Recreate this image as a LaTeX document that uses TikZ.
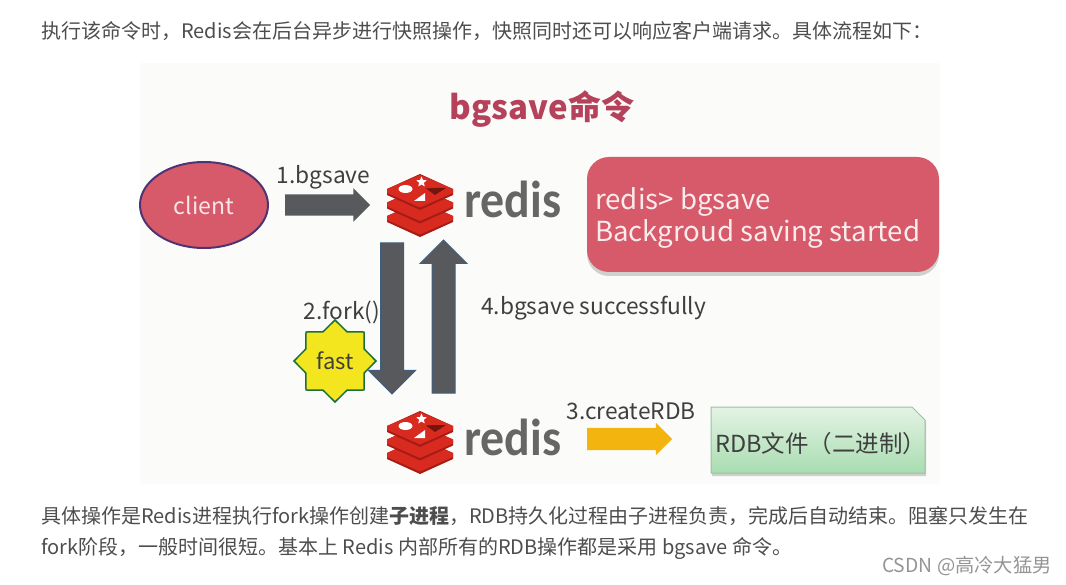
\documentclass[tikz,border=0pt]{standalone}
\usepackage{fontspec}
\setmainfont{Noto Sans CJK SC}
\newfontfamily\logofont[FakeStretch=0.92]{Carlito}
\usetikzlibrary{shapes.geometric, shapes.arrows, shadows}

\definecolor{pagetext}{HTML}{4D4D4D}
\definecolor{panelbg}{HTML}{FBFBF9}
\definecolor{rosered}{HTML}{D65A69}
\definecolor{titlered}{HTML}{B5415A}
\definecolor{labelgray}{HTML}{3F3F3F}
\definecolor{arrowgray}{HTML}{58595C}
\definecolor{arrowblue}{HTML}{3D6080}
\definecolor{logolight}{HTML}{D92A20}
\definecolor{logodark}{HTML}{A51C16}
\definecolor{amberfill}{HTML}{F4B40F}
\definecolor{starfill}{HTML}{F3E51E}
\definecolor{filetop}{HTML}{E4F4E4}
\definecolor{filebottom}{HTML}{A8DCB0}

\newcommand{\fsize}[1]{\fontsize{#1}{#1}\selectfont}

\tikzset{
    bodyline/.style={anchor=west, inner sep=0pt, text=pagetext, font=\fsize{20}},
    steplabel/.style={inner sep=0pt, text=labelgray, font=\fsize{22.7}},
    consoleline/.style={inner sep=0pt, anchor=west, text=white!88!rosered, font=\fsize{27.6}},
    redisword/.style={inner sep=0pt, text=black!60, font=\logofont\bfseries\fsize{52}},
    blockarrow/.style={single arrow, single arrow tip angle=90, single arrow head indent=0pt,
        inner xsep=0pt, outer sep=0pt, anchor=tail},
    grayarrow/.style={blockarrow, inner ysep=11pt, single arrow head extend=12pt,
        fill=arrowgray, draw=arrowblue, line width=1pt},
    pics/redislogo/.style={code={
        \foreach \dy in {27, 13.5, 0} {
            \fill[logodark] (-33, 15+\dy) -- (0, \dy) -- (33, 15+\dy) -- (33, 21+\dy) -- (0, 36+\dy) -- (-33, 21+\dy) -- cycle;
            \fill[logolight] (-33, 15+\dy) -- (0, 1+\dy) -- (33, 15+\dy) -- (33, 19+\dy) -- (0, 33.5+\dy) -- (-33, 19+\dy) -- cycle;
        }
        \fill[white] (-14.5, 15) ellipse (7 and 4);
        \node[star, star points=5, star point ratio=2.2, fill=white, inner sep=0pt, minimum size=11pt] at (1.5, 8) {};
        \fill[white] (-6, 27) -- (5, 19) -- (5, 27) -- cycle;
        \fill[logodark!70!black] (15, 14) -- (26, 14) -- (15, 21) -- (6, 14.5) -- cycle;
    }},
}

\begin{document}
\begin{tikzpicture}[x=1pt, y=-1pt]
    \useasboundingbox (0, 0) rectangle (1066, 585);

    \node[bodyline] (intro) at (41, 31) {执行该命令时，Redis会在后台异步进行快照操作，快照同时还可以响应客户端请求。具体流程如下：};
    \fill[panelbg] (140, 63) rectangle (940, 484);

    \node[text=titlered, font=\bfseries\fsize{33}, inner sep=0pt] (title) at (542, 109) {bgsave命令};

    % top row
    \node[ellipse, draw=arrowblue!60!violet!90!black, line width=2pt, fill=rosered, minimum width=128pt, minimum height=86pt,
        text=white!85!rosered, font=\fsize{23}] (client) at (204, 205) {client};
    \node[steplabel] (bgsavelabel) at (323.5, 177) {1.bgsave};
    \node[blockarrow, inner ysep=10.5pt, single arrow head extend=6pt, minimum height=85pt, fill=arrowgray] (bgsavearrow) at (285, 205) {};
    \pic at (420, 174) {redislogo};
    \node[redisword] (redistop) at (513, 199) {redis};
    \node[rounded corners=22pt, fill=rosered, drop shadow={shadow xshift=0pt, shadow yshift=-4pt, opacity=0.35},
        minimum width=352pt, minimum height=115pt] (console) at (763, 214.5) {};
    \node[consoleline] (consoleone) at (595, 202) {redis> bgsave};
    \node[consoleline] (consoletwo) at (595, 234) {Backgroud saving started};

    % middle
    \node[grayarrow, minimum height=151pt, rotate=-90] (forkarrow) at (392, 243) {};
    \node[grayarrow, minimum height=153pt, rotate=90] (donearrow) at (443.5, 393) {};
    \node[steplabel] (forklabel) at (342, 312) {2.fork()};
    \node[star, star points=8, star point ratio=1.3, fill=starfill, draw=arrowblue!60!green!70!black, line width=1.5pt,
        minimum size=82pt, inner sep=0pt, text=labelgray, font=\fsize{22}] (fast) at (335, 361) {fast};
    \node[steplabel] (donelabel) at (593.5, 308) {4.bgsave successfully};

    % bottom row
    \pic at (420, 411) {redislogo};
    \node[redisword] (redisbottom) at (513, 437) {redis};
    \node[steplabel] (rdblabel) at (631, 411) {3.createRDB};
    \node[blockarrow, inner ysep=11pt, single arrow head extend=5pt, minimum height=85pt, fill=amberfill] (rdbarrow) at (587, 439) {};
    \fill[black!30, opacity=0.6] (712, 410) -- (912, 410) -- (926, 422) -- (926, 476) -- (712, 476) -- cycle;
    \shade[top color=filetop, bottom color=filebottom, draw=filebottom!70!gray, line width=1pt]
        (711, 407) -- (912, 407) -- (925, 420) -- (925, 473) -- (711, 473) -- cycle;
    \node[inner sep=0pt, anchor=west, text=labelgray, font=\fsize{23.5}] (rdbfile) at (715, 444) {RDB文件（二进制）};

    \node[bodyline] (detailone) at (41, 516) {具体操作是Redis进程执行fork操作创建\textbf{子进程}，RDB持久化过程由子进程负责，完成后自动结束。阻塞只发生在};
    \node[bodyline] (detailtwo) at (41, 548) {fork阶段，一般时间很短。基本上 Redis 内部所有的RDB操作都是采用 bgsave 命令。};
    \node[inner sep=0pt, anchor=east, text=black!42, font=\fsize{19.3}] (mark) at (1052, 566) {CSDN @高冷大猛男};
\end{tikzpicture}
\end{document}
